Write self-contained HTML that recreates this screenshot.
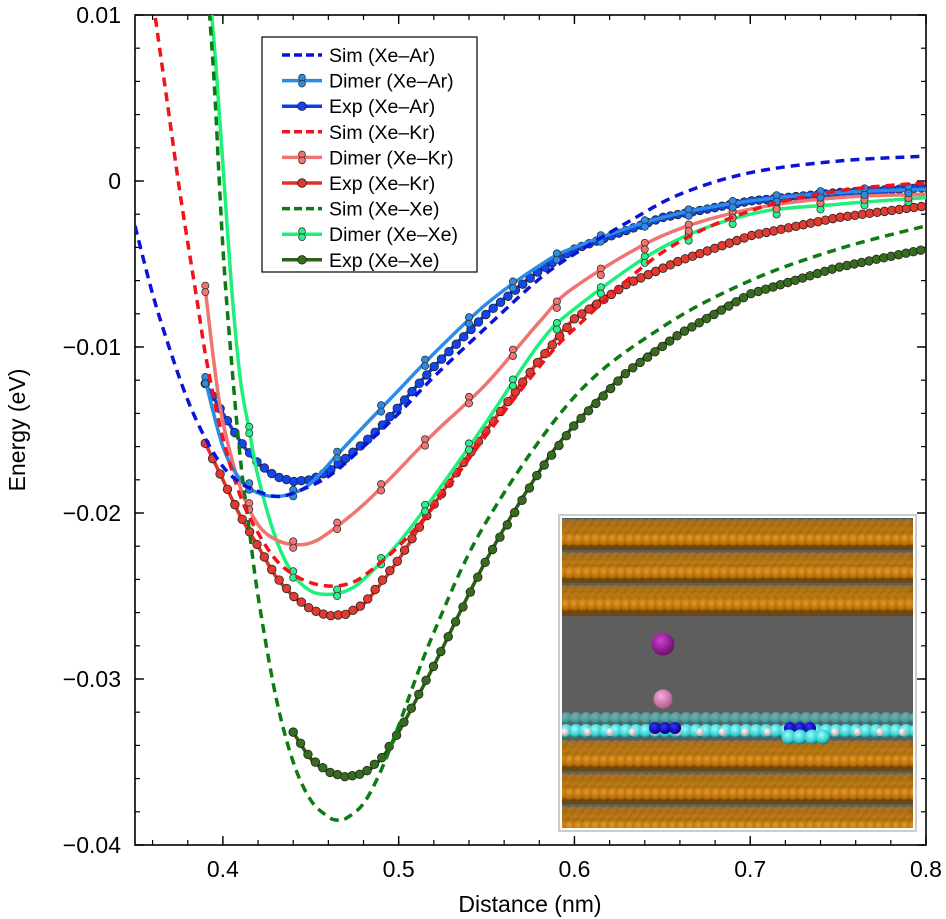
<!DOCTYPE html>
<html><head><meta charset="utf-8"><style>
html,body{margin:0;padding:0;background:#fff;}
svg{display:block;font-family:"Liberation Sans",Arial,sans-serif;}
</style></head><body>
<svg id="chart" width="946" height="919" viewBox="0 0 946 919" xmlns="http://www.w3.org/2000/svg">
<defs>
<radialGradient id="gold" cx="0.4" cy="0.35" r="0.65"><stop offset="0" stop-color="#e09a2a"/><stop offset="0.7" stop-color="#b66d05"/><stop offset="1" stop-color="#6a3e02"/></radialGradient>
<radialGradient id="cyan" cx="0.4" cy="0.35" r="0.65"><stop offset="0" stop-color="#9ff"/><stop offset="0.7" stop-color="#3cc"/><stop offset="1" stop-color="#177"/></radialGradient>
<radialGradient id="white" cx="0.4" cy="0.35" r="0.65"><stop offset="0" stop-color="#fff"/><stop offset="1" stop-color="#aaa"/></radialGradient>
<radialGradient id="purple" cx="0.4" cy="0.35" r="0.65"><stop offset="0" stop-color="#d040d0"/><stop offset="1" stop-color="#6a106a"/></radialGradient>
<radialGradient id="pink" cx="0.4" cy="0.35" r="0.65"><stop offset="0" stop-color="#f6b0dc"/><stop offset="1" stop-color="#b05a90"/></radialGradient>
<radialGradient id="blueA" cx="0.4" cy="0.35" r="0.65"><stop offset="0" stop-color="#33f"/><stop offset="1" stop-color="#008"/></radialGradient>
<clipPath id="plotclip"><rect x="135" y="15" width="791" height="830"/></clipPath>
<clipPath id="insetclip"><rect x="562" y="518" width="351" height="310"/></clipPath>
</defs>
<g id="axes"></g>
<g id="series" clip-path="url(#plotclip)"></g>
<g id="inset"></g>
<g id="legend"></g>
</svg>
<script>
// ---- data ----
const simArX = [0.35,0.36,0.37,0.38,0.39,0.40,0.41,0.42,0.43,0.44,0.46,0.48,0.50,0.52,0.55,0.58,0.60,0.63,0.66,0.70,0.75,0.80];
const simArY = [-0.0027,-0.0068,-0.0102,-0.0132,-0.0155,-0.0172,-0.0182,-0.0187,-0.0190,-0.0188,-0.0178,-0.0160,-0.0140,-0.0118,-0.0088,-0.0059,-0.0044,-0.0025,-0.0008,0.0005,0.0012,0.0015];
const dimArX = [0.39,0.40,0.41,0.42,0.43,0.44,0.45,0.465,0.48,0.49,0.50,0.52,0.55,0.58,0.60,0.65,0.70,0.75,0.80];
const dimArY = [-0.0120,-0.0160,-0.0180,-0.0188,-0.0190,-0.0188,-0.0182,-0.0165,-0.0148,-0.0137,-0.0126,-0.0104,-0.0074,-0.0051,-0.0040,-0.0022,-0.0012,-0.0007,-0.0005];
const expArX = [0.39,0.40,0.41,0.42,0.43,0.44,0.45,0.46,0.47,0.48,0.49,0.50,0.52,0.55,0.58,0.60,0.65,0.70,0.75,0.80];
const expArY = [-0.0122,-0.0140,-0.0157,-0.0170,-0.0178,-0.0181,-0.0180,-0.0175,-0.0167,-0.0158,-0.0148,-0.0136,-0.0112,-0.0080,-0.0054,-0.0041,-0.0022,-0.0012,-0.0007,-0.0004];
const simKrX = [0.358,0.362,0.37,0.376,0.385,0.391,0.40,0.41,0.42,0.43,0.44,0.45,0.46,0.47,0.48,0.50,0.52,0.55,0.58,0.60,0.65,0.70,0.75,0.80];
const simKrY = [0.0125,0.0095,0.0035,-0.0010,-0.0070,-0.0110,-0.0155,-0.0190,-0.0212,-0.0228,-0.0237,-0.0242,-0.0244,-0.0243,-0.0238,-0.0220,-0.0196,-0.0153,-0.0112,-0.0089,-0.0043,-0.0018,-0.0006,-0.0001];
const dimKrX = [0.39,0.395,0.40,0.41,0.42,0.43,0.44,0.45,0.46,0.48,0.50,0.52,0.55,0.58,0.60,0.65,0.70,0.75,0.80];
const dimKrY = [-0.0065,-0.0110,-0.0145,-0.0185,-0.0207,-0.0216,-0.0219,-0.0218,-0.0212,-0.0195,-0.0174,-0.0152,-0.0122,-0.0085,-0.0064,-0.0033,-0.0017,-0.0010,-0.0008];
const expKrX = [0.39,0.40,0.41,0.42,0.43,0.44,0.45,0.46,0.47,0.48,0.50,0.52,0.55,0.58,0.60,0.63,0.66,0.70,0.75,0.80];
const expKrY = [-0.0158,-0.0180,-0.0202,-0.0220,-0.0238,-0.0250,-0.0258,-0.0262,-0.0261,-0.0255,-0.0228,-0.0195,-0.0150,-0.0108,-0.0083,-0.0062,-0.0048,-0.0033,-0.0022,-0.0015];
const simXeX = [0.391,0.395,0.40,0.405,0.41,0.415,0.42,0.43,0.44,0.45,0.46,0.465,0.47,0.48,0.49,0.50,0.52,0.55,0.60,0.65,0.70,0.75,0.80];
const simXeY = [0.0120,0.0060,-0.0040,-0.0110,-0.0168,-0.0210,-0.0250,-0.0310,-0.0350,-0.0373,-0.0383,-0.0385,-0.0384,-0.0375,-0.0355,-0.0328,-0.0272,-0.0205,-0.0130,-0.0088,-0.0060,-0.0041,-0.0027];
const dimXeX = [0.392,0.396,0.40,0.405,0.41,0.415,0.42,0.43,0.44,0.45,0.46,0.47,0.48,0.50,0.52,0.55,0.58,0.60,0.65,0.70,0.75,0.80];
const dimXeY = [0.0120,0.0070,0.0010,-0.0065,-0.0120,-0.0150,-0.0178,-0.0215,-0.0237,-0.0247,-0.0249,-0.0247,-0.0240,-0.0218,-0.0190,-0.0145,-0.0098,-0.0077,-0.0040,-0.0020,-0.0014,-0.0010];
const expXeX = [0.44,0.45,0.46,0.47,0.48,0.49,0.50,0.52,0.55,0.58,0.60,0.63,0.66,0.70,0.75,0.80];
const expXeY = [-0.0332,-0.0348,-0.0356,-0.0359,-0.0357,-0.0348,-0.0332,-0.0292,-0.0228,-0.0175,-0.0147,-0.0115,-0.0092,-0.0068,-0.0052,-0.0041];
const xTicks = [0.4,0.5,0.6,0.7,0.8];
const xTickLabels = ["0.4","0.5","0.6","0.7","0.8"];
const yTicks = [0.01,0,-0.01,-0.02,-0.03,-0.04];
const yTickLabels = ["0.01","0","\u22120.01","\u22120.02","\u22120.03","\u22120.04"];
const legendLabels = ["Sim (Xe\u2013Ar)","Dimer (Xe\u2013Ar)","Exp (Xe\u2013Ar)","Sim (Xe\u2013Kr)","Dimer (Xe\u2013Kr)","Exp (Xe\u2013Kr)","Sim (Xe\u2013Xe)","Dimer (Xe\u2013Xe)","Exp (Xe\u2013Xe)"];

// ---- scales ----
const X0=135,X1=926,Y0=845,Y1=15;
const xs = d => X0 + (d-0.35)/(0.45)*(X1-X0);
const ys = v => Y0 - (v+0.04)/(0.05)*(Y0-Y1);
const NS="http://www.w3.org/2000/svg";
function mk(tag, attrs, parent){const e=document.createElementNS(NS,tag);for(const k in attrs)e.setAttribute(k,attrs[k]);parent.appendChild(e);return e;}

function interp(xa, ya, d){
  if(d<xa[0]||d>xa[xa.length-1])return null;
  for(let i=0;i<xa.length-1;i++){if(d>=xa[i]&&d<=xa[i+1]){const t=(d-xa[i])/(xa[i+1]-xa[i]);return ya[i]+t*(ya[i+1]-ya[i]);}}
  return ya[ya.length-1];
}
function smoothPath(xa, ya){
  const p = xa.map((d,i)=>[xs(d),ys(ya[i])]);
  let s = `M${p[0][0]},${p[0][1]}`;
  for(let i=0;i<p.length-1;i++){
    const a=p[i-1]||p[i], b=p[i], c=p[i+1], e=p[i+2]||c;
    const c1=[b[0]+(c[0]-a[0])/6, b[1]+(c[1]-a[1])/6];
    const c2=[c[0]-(e[0]-b[0])/6, c[1]-(e[1]-b[1])/6];
    s+=` C${c1[0]},${c1[1]} ${c2[0]},${c2[1]} ${c[0]},${c[1]}`;
  }
  return s;
}

const axes=document.getElementById('axes');
const series=document.getElementById('series');

const frame = mk('rect',{x:X0,y:Y1,width:X1-X0,height:Y0-Y1,fill:'none',stroke:'#000','stroke-width':1.6},axes);


for(let k=0;k<=22;k++){
  const d=0.36+k*0.02; if(d>0.8001)break;
  const x=xs(d);
  mk('line',{x1:x,y1:Y0,x2:x,y2:Y0-5,stroke:'#000','stroke-width':1.2},axes);
  mk('line',{x1:x,y1:Y1,x2:x,y2:Y1+5,stroke:'#000','stroke-width':1.2},axes);
}
xTicks.forEach((d,i)=>{
  const x=xs(d);
  mk('line',{x1:x,y1:Y0,x2:x,y2:Y0-9,stroke:'#000','stroke-width':1.4},axes);
  mk('line',{x1:x,y1:Y1,x2:x,y2:Y1+9,stroke:'#000','stroke-width':1.4},axes);
  const t=mk('text',{x:x,y:Y0+32,'font-size':23,'text-anchor':'middle',fill:'#000'},axes);
  t.textContent=xTickLabels[i];
  
  
});
for(let k=0;k<=25;k++){
  const v=-0.04+k*0.002; const y=ys(v);
  mk('line',{x1:X0,y1:y,x2:X0+5,y2:y,stroke:'#000','stroke-width':1.2},axes);
  mk('line',{x1:X1,y1:y,x2:X1-5,y2:y,stroke:'#000','stroke-width':1.2},axes);
}
yTicks.forEach((v,i)=>{
  const y=ys(v);
  mk('line',{x1:X0,y1:y,x2:X0+9,y2:y,stroke:'#000','stroke-width':1.4},axes);
  mk('line',{x1:X1,y1:y,x2:X1-9,y2:y,stroke:'#000','stroke-width':1.4},axes);
  const t=mk('text',{x:X0-14,y:y+8,'font-size':23,'text-anchor':'end',fill:'#000'},axes);
  t.textContent=yTickLabels[i];
  
  
});
const xl=mk('text',{x:530,y:912,'font-size':23,'text-anchor':'middle'},axes);
xl.textContent='Distance (nm)';


const yl=mk('text',{x:0,y:0,'font-size':23,'text-anchor':'middle',transform:'translate(25,430) rotate(-90)'},axes);
yl.textContent='Energy (eV)';



const defs = [
  {x:simArX,y:simArY,color:'#0a14d8',type:'sim',name:'sim-xe-ar-line'},
  {x:dimArX,y:dimArY,color:'#2a8ce6',fill:'#2a8ce6',type:'dim',name:'dimer-xe-ar-line'},
  {x:expArX,y:expArY,color:'#0e3fe0',fill:'#1245f0',type:'exp',name:'exp-xe-ar-line'},
  {x:simKrX,y:simKrY,color:'#f0141a',type:'sim',name:'sim-xe-kr-line'},
  {x:dimKrX,y:dimKrY,color:'#f07470',fill:'#f07470',type:'dim',name:'dimer-xe-kr-line'},
  {x:expKrX,y:expKrY,color:'#dc3328',fill:'#e23a30',type:'exp',name:'exp-xe-kr-line'},
  {x:simXeX,y:simXeY,color:'#0d7a12',type:'sim',name:'sim-xe-xe-line'},
  {x:dimXeX,y:dimXeY,color:'#1ef07a',fill:'#2cf08a',type:'dim',name:'dimer-xe-xe-line'},
  {x:expXeX,y:expXeY,color:'#2c5e14',fill:'#356d1c',type:'exp',name:'exp-xe-xe-line'}
];
const order=[8,5,2,7,4,1,6,3,0];
order.forEach(i=>{
  const s=defs[i];
  const g=mk('g',{},series);
  
  
  const p=mk('path',{d:smoothPath(s.x,s.y),fill:'none',stroke:s.color,'stroke-width':3.5,'stroke-dasharray':s.type==='sim'?'9,6':'none','stroke-linejoin':'round'},g);
  
  
  if(s.type==='exp'){
    const start=s.x[0], end=s.x[s.x.length-1];
    for(let d=start; d<=end+1e-9; d+=0.0042){
      const v=interp(s.x,s.y,d); if(v===null||v>0.01)continue;
      const c=mk('circle',{cx:xs(d),cy:ys(v),r:4.3,fill:s.fill,stroke:'#222','stroke-width':0.8},g);
      
      
    }
  } else if(s.type==='dim'){
    for(let d=0.39; d<=0.8; d+=0.025){
      const v=interp(s.x,s.y,d); if(v===null||v>0.009)continue;
      const cx=xs(d), cy=ys(v);
      const c1=mk('circle',{cx:cx,cy:cy-3.2,r:3.6,fill:s.fill,stroke:'#333','stroke-width':0.8},g);
      
      
      const c2=mk('circle',{cx:cx,cy:cy+3.2,r:3.6,fill:s.fill,stroke:'#333','stroke-width':0.8},g);
      
      
    }
  }
});

const lg=document.getElementById('legend');


mk('rect',{x:262,y:37,width:215,height:235,fill:'#fff',stroke:'#000','stroke-width':1.2},lg);
legendLabels.forEach((lab,i)=>{
  const s=defs[i]; const y=55+i*25.6;
  const e=mk('g',{},lg);
  
  
  mk('line',{x1:282,y1:y,x2:322,y2:y,stroke:s.color,'stroke-width':3.5,'stroke-dasharray':s.type==='sim'?'8,4':'none'},e);
  if(s.type==='exp') mk('circle',{cx:302,cy:y,r:4.3,fill:s.fill,stroke:'#222','stroke-width':0.8},e);
  if(s.type==='dim'){mk('circle',{cx:302,cy:y-3,r:3.4,fill:s.fill,stroke:'#333','stroke-width':0.8},e);mk('circle',{cx:302,cy:y+3,r:3.4,fill:s.fill,stroke:'#333','stroke-width':0.8},e);}
  const t=mk('text',{x:329,y:y+7,'font-size':19.5,fill:'#000'},e);
  t.textContent=lab;
});

const ins=document.getElementById('inset');
mk('rect',{x:559,y:515,width:357,height:316,fill:'#fff',stroke:'#ccc','stroke-width':2},ins);
const ic=mk('g',{'clip-path':'url(#insetclip)'},ins);
mk('rect',{x:562,y:518,width:351,height:310,fill:'#5e5e5e'},ic);
function goldRows(y0,n){
  for(let r=0;r<n;r++){
    const yy=y0+r*33;
    mk('rect',{x:562,y:yy-14,width:351,height:28,fill:'#6a4a14'},ic);
    for(let b=0;b<3;b++){
      for(let k=0;k<42;k++){
        const cx=556+k*8.6+b*3, cy=yy-10+b*7;
        mk('circle',{cx:cx,cy:cy,r:7,fill:'url(#gold)',opacity:b<2?0.55:1},ic);
      }
    }
  }
}
goldRows(536,3);
mk('rect',{x:562,y:602,width:351,height:10,fill:'#6a4a14'},ic);
for(let k=0;k<42;k++)mk('circle',{cx:558+k*8.6,cy:605,r:7,fill:'url(#gold)'},ic);
goldRows(757,3);
for(let k=0;k<36;k++)mk('circle',{cx:566+k*10,cy:718,r:6,fill:'url(#cyan)',opacity:0.5},ic);
for(let k=0;k<36;k++){const cx=566+k*10;mk('circle',{cx:cx,cy:731,r:7,fill:'url(#cyan)'},ic);}
for(let k=0;k<16;k++)mk('circle',{cx:565+k*22.5,cy:732,r:4,fill:'url(#white)'},ic);
[655,665,675,790,800,810].forEach(cx=>mk('circle',{cx:cx,cy:728,r:6,fill:'url(#blueA)'},ic));
[789,800,812,823].forEach(cx=>mk('circle',{cx:cx,cy:737,r:7.5,fill:'url(#cyan)'},ic));
const xe=mk('circle',{cx:663,cy:644,r:11.5,fill:'url(#purple)'},ic);


const kr=mk('circle',{cx:663,cy:699,r:9.5,fill:'url(#pink)'},ic);


</script>
</body></html>
